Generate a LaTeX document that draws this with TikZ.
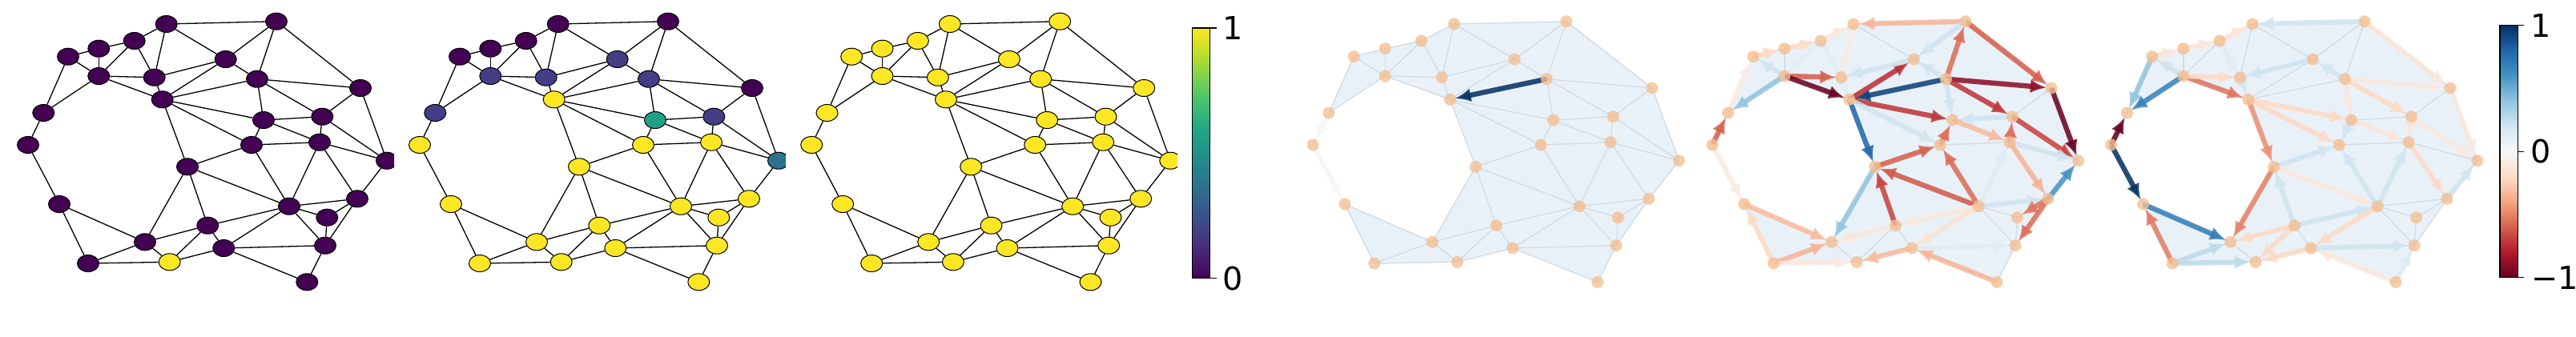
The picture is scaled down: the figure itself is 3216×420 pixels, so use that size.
\documentclass[tikz,border=0pt]{standalone}
\usepackage{fontspec}
\setmainfont{DejaVu Sans}
\usetikzlibrary{arrows.meta,shapes.geometric}
\pgfdeclarelayer{back}
\pgfdeclarelayer{mid}
\pgfsetlayers{back,mid,main}

% viridis
\definecolor{v0}{HTML}{440154}
\definecolor{v1}{HTML}{482475}
\definecolor{v2}{HTML}{414487}
\definecolor{v3}{HTML}{355F8D}
\definecolor{v4}{HTML}{2A788E}
\definecolor{v5}{HTML}{21918C}
\definecolor{v6}{HTML}{22A884}
\definecolor{v7}{HTML}{44BF70}
\definecolor{v8}{HTML}{7AD151}
\definecolor{v9}{HTML}{BDDF26}
\definecolor{v10}{HTML}{FDE725}
\definecolor{vB}{HTML}{433E85}
\definecolor{vT}{HTML}{22A085}
\definecolor{vS}{HTML}{2C728E}
% RdBu
\definecolor{r5}{HTML}{67001F}
\definecolor{r4}{HTML}{B2182B}
\definecolor{r3}{HTML}{D6604D}
\definecolor{r2}{HTML}{F4A582}
\definecolor{r1}{HTML}{FDDBC7}
\definecolor{r0}{HTML}{F7F7F7}
\definecolor{b1}{HTML}{D1E5F0}
\definecolor{b2}{HTML}{92C5DE}
\definecolor{b3}{HTML}{4393C3}
\definecolor{b4}{HTML}{2166AC}
\definecolor{b5}{HTML}{053061}
\definecolor{peach}{HTML}{F5BF92}
\definecolor{tribg}{HTML}{E9F1F8}
\definecolor{meshc}{HTML}{D3DCE6}

\pgfdeclareverticalshading{viridis}{100bp}{color(0bp)=(v0); color(25bp)=(v0);
  color(30bp)=(v1); color(35bp)=(v2); color(40bp)=(v3); color(45bp)=(v4);
  color(50bp)=(v5); color(55bp)=(v6); color(60bp)=(v7); color(65bp)=(v8);
  color(70bp)=(v9); color(75bp)=(v10); color(100bp)=(v10)}
\pgfdeclareverticalshading{rdbu}{100bp}{color(0bp)=(r5); color(25bp)=(r5);
  color(30bp)=(r4); color(35bp)=(r3); color(40bp)=(r2); color(45bp)=(r1);
  color(50bp)=(r0); color(55bp)=(b1); color(60bp)=(b2); color(65bp)=(b3);
  color(70bp)=(b4); color(75bp)=(b5); color(100bp)=(b5)}

% node positions of the mesh (pixels)
\newcommand\gnodes{1/207.7/30, 2/345/26.7, 3/167.7/51, 4/123.3/60.7, 5/85/70.7,
  6/281.7/74, 7/123.3/95, 8/192.7/96.7, 9/321/98.7, 10/450/110, 11/202.7/124.3,
  12/54.3/141, 13/402.3/145.7, 14/329/150, 15/35/181, 16/314/181, 17/399/177.7,
  18/483/200.7, 19/234/208.3, 20/446/248.3, 21/74/255, 22/361/257.7,
  23/408.3/271.7, 24/259.3/281.7, 25/181/302.3, 26/406/306.7, 27/279.3/310,
  28/211.7/327.3, 29/110/329, 30/383.3/352.3}
\newcommand\gedges{1/2,1/3,1/6,1/8,2/6,2/9,2/10,3/4,3/7,3/8,4/5,4/7,5/7,5/12,
  6/8,6/9,6/11,7/8,7/11,7/12,8/11,9/10,9/11,9/13,9/14,10/13,10/18,11/14,11/16,
  11/19,12/15,13/14,13/17,13/18,14/16,14/17,15/21,16/17,16/19,16/22,17/18,17/20,
  17/22,18/20,19/22,19/24,19/25,20/22,20/23,20/26,21/25,21/29,22/23,22/24,22/26,
  22/27,23/26,24/25,24/27,24/28,25/28,25/29,26/27,26/30,27/28,27/30,28/29}
\newcommand\gtris{1/2/6,1/3/8,1/6/8,2/6/9,2/9/10,3/4/7,3/7/8,4/5/7,5/7/12,
  6/8/11,6/9/11,7/8/11,9/10/13,9/11/14,9/13/14,10/13/18,11/14/16,11/16/19,
  13/14/17,13/17/18,14/16/17,16/17/22,16/19/22,17/18/20,17/20/22,19/22/24,
  19/24/25,20/22/23,20/23/26,22/23/26,22/24/27,22/26/27,24/25/28,24/27/28,
  25/28/29,21/25/29,26/27/30}

% node colours of the three graphs
\newcommand\colA{{"v0","v0","v0","v0","v0","v0","v0","v0","v0","v0","v0","v0",
  "v0","v0","v0","v0","v0","v0","v0","v0","v0","v0","v0","v0","v0","v0","v0",
  "v10","v0","v0"}}
\newcommand\colB{{"v0","v0","v0","v0","v0","vB","vB","vB","vB","v0","v10","vB",
  "vB","vT","v10","v10","v10","vS","v10","v10","v10","v10","v10","v10","v10",
  "v10","v10","v10","v10","v10"}}
\newcommand\colC{{"v10","v10","v10","v10","v10","v10","v10","v10","v10","v10",
  "v10","v10","v10","v10","v10","v10","v10","v10","v10","v10","v10","v10","v10",
  "v10","v10","v10","v10","v10","v10","v10"}}

% edge flows: from/to/colour
\newcommand\arrD{9/11/b5, 15/21/r0, 12/15/r0}
\newcommand\arrE{2/1/r2!70!r1, 2/10/r3, 9/2/r3!80!r2, 2/6/b1, 9/10/r5!50!r4,
  10/18/r5, 9/13/r4!60!r3, 9/11/b5!70!b4, 11/6/r4!70!r3, 9/14/b1, 9/6/b1,
  6/8/b1, 7/8/r3, 7/11/r5, 7/12/b2, 7/5/b1, 5/4/r1, 4/3/r1, 3/1/r1!50!r0,
  15/12/r3, 15/21/r1!40!r0, 21/25/r2!60!r1, 29/21/r1, 29/25/r2!70!r1,
  29/28/r1!50!r0, 24/25/r1!60!r0, 11/19/b4, 11/14/r4!60!r3, 11/16/b1, 19/25/b2,
  19/16/r3, 24/19/r3!60!r4, 22/19/r3!90!r4, 22/16/r3!80!r2, 16/14/r3!80!r2,
  13/14/b1, 14/17/r2!60!r1, 17/13/r3!80!r2, 13/18/r3!60!r4, 17/18/b1,
  17/20/r2!70!r1, 20/18/b3, 22/17/b1!60!r0, 22/20/b1, 20/23/r3!70!r2,
  20/26/r3!80!r2, 22/24/r1!50!r0, 27/28/r2!60!r1, 30/27/r2!70!r1, 22/27/r1!70!r0,
  27/26/b1!60!r0, 1/8/r1!40!r0, 3/8/b1!50!r0, 8/11/b1!50!r0, 12/5/r1!40!r0,
  3/7/b1!50!r0}
\newcommand\arrF{15/12/r5, 15/21/b5, 21/25/b4!50!b3, 29/21/r3!60!r2,
  7/12/b3!60!b4, 5/12/b2, 7/11/r3!70!r2, 11/19/r2!70!r3, 19/25/r3!50!r2,
  29/25/b1!70!b2, 29/28/b1!70!b2, 24/25/r1, 27/28/r1, 7/8/r1, 7/5/b1,
  5/4/r1!60!r0, 4/3/r1!60!r0, 3/1/r1!60!r0, 6/8/b1, 2/1/b1, 9/6/b1,
  3/8/b1!60!r0, 8/11/b1, 19/16/b1, 24/19/b1, 22/16/b1, 22/17/b1, 24/22/b1,
  27/26/b1, 20/18/b1, 11/14/r1, 11/16/r1, 9/13/r1, 2/10/r1!60!r0, 17/20/r1,
  14/17/r1!60!r0, 13/17/r1!60!r0, 22/27/r1, 24/28/r1, 19/22/r1!50!r0,
  30/27/r1!50!r0, 30/26/b1!60!r0, 14/16/b1, 9/14/r1!50!r0, 10/18/r1!50!r0,
  13/18/r1!50!r0, 9/10/r1!50!r0}

\begin{document}
\begin{tikzpicture}[x=0.01cm,y=-0.01cm,
  gnode/.style={ellipse,draw=black,line width=0.01cm,minimum width=0.27cm,
    minimum height=0.21cm,inner sep=0pt},
  gedge/.style={black,line width=0.013cm},
  pnode/.style={circle,fill=peach,fill opacity=0.8,minimum size=0.15cm,inner sep=0pt},
  tri/.style={fill=tribg},
  mesh/.style={draw=meshc,line width=0.014cm},
  arr/.style={line width=0.064cm,-{Latex[length=0.2cm,width=0.17cm]},opacity=0.85,
    shorten >=-0.02cm},
  cbframe/.style={draw=black,line width=0.013cm},
  cblabel/.style={anchor=west,inner sep=0pt,font=\fontsize{11.3}{13}\selectfont}]
\useasboundingbox (0,0) rectangle (3216,420);

% signal on the graph
\foreach \p/\sx/\cols in {A/0/\colA, B/489/\colB, C/978.2/\colC}{
  \begin{scope}[shift={(\sx,0)},name prefix=\p-]
    \clip (-20,-10) rectangle (492,430);
    \foreach \i/\x/\y in \gnodes{
      \pgfmathsetmacro\fc{\cols[\i-1]}
      \node[gnode,fill=\fc] (n\i) at (\x,\y) {};
    }
    \begin{pgfonlayer}{mid}
      \foreach \a/\b in \gedges \draw[gedge] (n\a) -- (n\b);
    \end{pgfonlayer}
  \end{scope}
}

% viridis colour bar
\shade[shading=viridis] (1488.3,35) rectangle (1510.7,347.7);
\draw[cbframe] (1488.3,35) rectangle (1510.7,347.7);
\draw[cbframe] (1510.7,35) -- ++(8,0) (1510.7,347.7) -- ++(8,0);
\node[cblabel] (vtop) at (1525.5,35) {1};
\node[cblabel] (vbot) at (1525.5,347.7) {0};

% edge flows on the complex
\foreach \p/\sx in {D/1603.5, E/2102, F/2600}{
  \edef\arrs{\csname arr\p\endcsname}
  \begin{scope}[shift={(\sx,0)},xscale=1.02,name prefix=\p-]
    \foreach \i/\x/\y in \gnodes \node[pnode] (n\i) at (\x,\y) {};
    \begin{pgfonlayer}{back}
      \foreach \a/\b/\c in \gtris \fill[tri] (n\a.center) -- (n\b.center) -- (n\c.center) -- cycle;
      \foreach \a/\b in \gedges \draw[mesh] (n\a.center) -- (n\b.center);
    \end{pgfonlayer}
    \begin{pgfonlayer}{mid}
      \foreach \a/\b/\c in \arrs \draw[arr,draw=\c,fill=\c] (n\a.center) -- (n\b);
    \end{pgfonlayer}
  \end{scope}
}

% RdBu colour bar
\shade[shading=rdbu] (3121,31.7) rectangle (3143.3,346.7);
\draw[cbframe] (3121,31.7) rectangle (3143.3,346.7);
\draw[cbframe] (3143.3,31.7) -- ++(8,0) (3143.3,189.2) -- ++(8,0) (3143.3,346.7) -- ++(8,0);
\node[cblabel] (rtop) at (3158.6,31.7) {1};
\node[cblabel] (rmid) at (3158.6,189.2) {0};
\node[cblabel] (rbot) at (3159.5,346.7) {−1};
\end{tikzpicture}
\end{document}
